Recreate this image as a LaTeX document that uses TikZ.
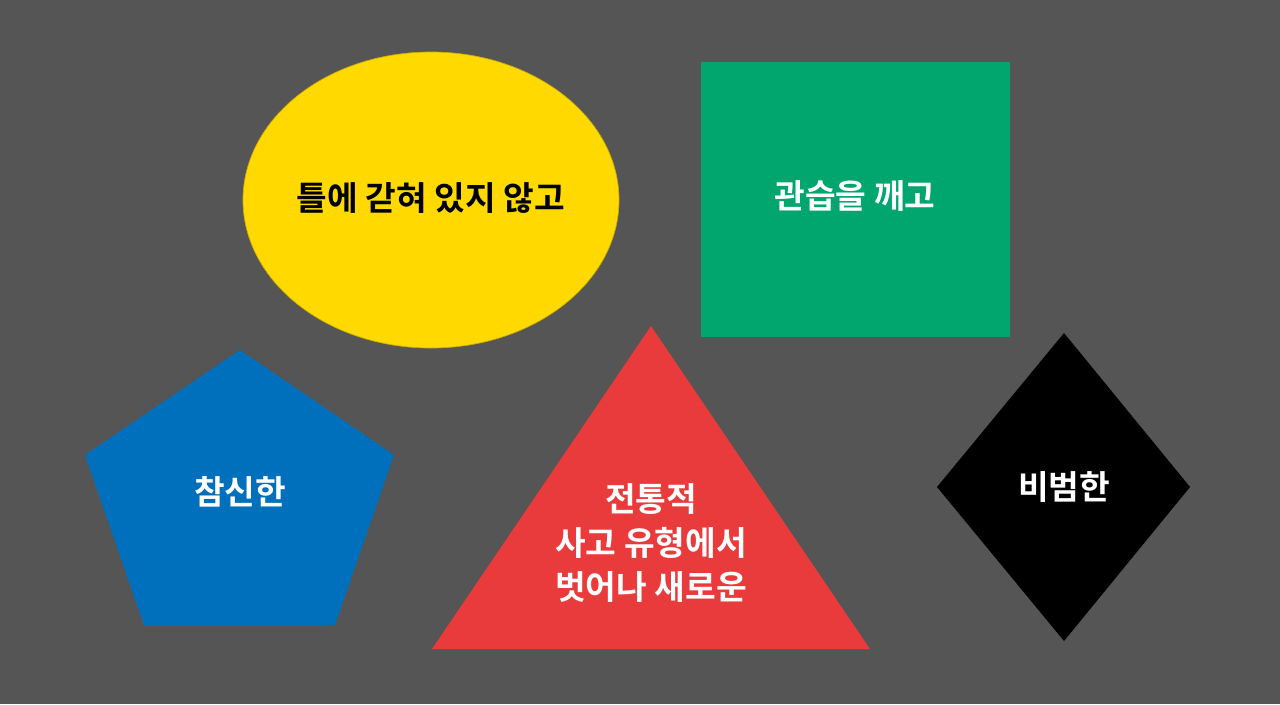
\documentclass[tikz,border=0pt]{standalone}
\usepackage{fontspec}
\newfontfamily\kr{Noto Sans CJK KR}[BoldFont={Noto Sans CJK KR Bold}]
\definecolor{bg}{HTML}{555555}
\definecolor{yel}{HTML}{FFD900}
\definecolor{grn}{HTML}{00A66E}
\definecolor{blu}{HTML}{0070BC}
\definecolor{rd}{HTML}{E93B3B}
\begin{document}
\begin{tikzpicture}[x=0.75pt,y=-0.75pt,
  lbl/.style={font=\kr\bfseries\fontsize{25}{33}\selectfont,align=center}]
\fill[bg] (0,0) rectangle (1280,704);
\useasboundingbox (0,0) rectangle (1280,704);
\filldraw[fill=yel,draw=yel!80!black,line width=0.5pt] (431,200) ellipse [x radius=188, y radius=148];
\fill[grn] (701,62) rectangle (1010,337);
\fill[blu] (240,350) -- (394,455) -- (335,625) -- (144,625) -- (85,455) -- cycle;
\fill[rd] (651,326) -- (870,649) -- (432,649) -- cycle;
\fill[black] (1064,333) -- (1190,487) -- (1064,641) -- (937,487) -- cycle;
\node[lbl,text=black] (t1) at (431,198) {틀에 갇혀 있지 않고};
\node[lbl,text=white] (t2) at (855,196) {관습을 깨고};
\node[lbl,text=white] (t3) at (240,492) {참신한};
\node[lbl,text=white] (t4) at (651,543) {전통적\\사고 유형에서\\벗어나 새로운};
\node[lbl,text=white] (t5) at (1064,487) {비범한};
\end{tikzpicture}
\end{document}
